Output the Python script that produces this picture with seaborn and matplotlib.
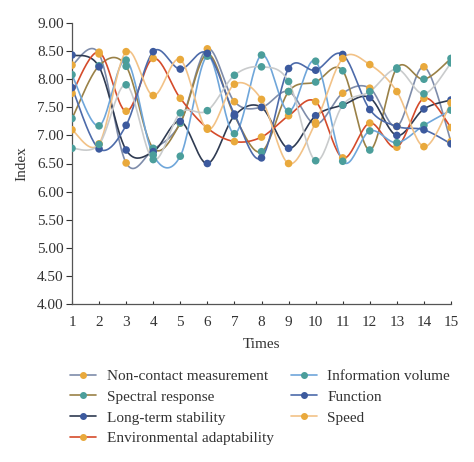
import numpy as np
import pandas as pd
import matplotlib
matplotlib.use("Agg")
import matplotlib.pyplot as plt
from matplotlib.lines import Line2D
import seaborn as sns

times = list(range(1, 16))

non_contact = [8.25, 8.45, 6.51, 6.75, 7.22, 8.54, 7.60, 7.50, 7.78, 7.20, 7.75, 7.84, 7.16, 8.22, 6.89]
spectral = [7.30, 8.24, 8.23, 6.77, 7.22, 8.45, 7.35, 6.71, 7.78, 7.95, 8.15, 6.74, 8.20, 8.00, 8.37]
long_term = [8.43, 8.22, 6.74, 6.71, 7.25, 6.50, 7.35, 7.50, 6.77, 7.35, 7.54, 7.67, 7.00, 7.47, 7.63]
environmental = [7.75, 8.48, 7.43, 8.37, 7.66, 7.13, 6.89, 6.97, 7.35, 7.60, 6.60, 7.22, 6.79, 7.66, 7.14]
information = [8.08, 7.17, 8.34, 6.65, 6.63, 8.41, 7.03, 8.43, 7.43, 8.32, 6.54, 7.08, 6.87, 7.18, 7.45]
function = [7.85, 6.76, 7.18, 8.49, 8.18, 8.46, 7.38, 6.60, 8.19, 8.16, 8.44, 7.46, 7.16, 7.10, 6.85]
speed = [7.10, 6.85, 8.49, 7.71, 8.35, 7.11, 7.91, 7.64, 6.50, 7.23, 8.37, 8.26, 7.78, 6.80, 7.58]
extra = [6.77, 6.84, 7.90, 6.57, 7.40, 7.44, 8.07, 8.22, 7.96, 6.55, 7.54, 7.78, 8.18, 7.74, 8.29]

names = ["Non-contact measurement", "Spectral response", "Long-term stability",
         "Environmental adaptability", "Information volume", "Function", "Speed", "_extra"]
series = [non_contact, spectral, long_term, environmental, information, function, speed, extra]

ORANGE = "#E9A93C"
TEAL = "#4B9E9B"
BLUE = "#3C5A9E"
line_colors = ["#7E8CAA", "#9A8147", "#2F3B52", "#D54B2B", "#6FA6DA", "#4D6BAA", "#F2C287", "#C9CBCC"]
marker_colors = [ORANGE, TEAL, BLUE, ORANGE, TEAL, BLUE, ORANGE, TEAL]


def smooth(xs, ys, n=24):
    # Catmull-Rom style cubic Bezier (Excel smoothed line rendering)
    xs = np.asarray(xs, float)
    ys = np.asarray(ys, float)
    px = np.concatenate([[xs[0]], xs, [xs[-1]]])
    py = np.concatenate([[ys[0]], ys, [ys[-1]]])
    outx, outy = [], []
    for i in range(1, len(px) - 2):
        p0 = np.array([px[i - 1], py[i - 1]])
        p1 = np.array([px[i], py[i]])
        p2 = np.array([px[i + 1], py[i + 1]])
        p3 = np.array([px[i + 2], py[i + 2]])
        c1 = p1 + (p2 - p0) / 6.0
        c2 = p2 - (p3 - p1) / 6.0
        t = np.linspace(0, 1, n, endpoint=(i == len(px) - 3))
        b = ((1 - t) ** 3)[:, None] * p1 + (3 * (1 - t) ** 2 * t)[:, None] * c1 \
            + (3 * (1 - t) * t ** 2)[:, None] * c2 + (t ** 3)[:, None] * p2
        outx.extend(b[:, 0]); outy.extend(b[:, 1])
    return np.array(outx), np.array(outy)


sns.set_theme(style="white")
plt.rcParams["font.family"] = ["Liberation Serif", "DejaVu Serif"]

fig = plt.figure(figsize=(4.74, 4.62), dpi=100)
ax = fig.add_axes([72 / 474, 1 - 304 / 462, (451 - 72) / 474, (304 - 23) / 462])

rows = []
for name, vals in zip(names, series):
    sx, sy = smooth(times, vals)
    rows.append(pd.DataFrame({"Times": sx, "Index": sy, "series": name}))
curves = pd.concat(rows, ignore_index=True)
points = pd.concat([pd.DataFrame({"Times": times, "Index": v, "series": n}) for n, v in zip(names, series)],
                   ignore_index=True)

sns.lineplot(data=curves, x="Times", y="Index", hue="series", hue_order=names,
             palette=line_colors, sort=False, estimator=None, units="series",
             linewidth=1.2, legend=False, ax=ax)
sns.scatterplot(data=points, x="Times", y="Index", hue="series", hue_order=names,
                palette=marker_colors, s=30, edgecolor="none", legend=False, ax=ax, zorder=5)

ax.set_xlim(1, 15)
ax.set_ylim(4, 9)
ax.set_xticks(times)
ax.set_yticks(np.arange(4, 9.01, 0.5))
ax.set_yticklabels([f"{v:.2f}" for v in np.arange(4, 9.01, 0.5)])
ax.tick_params(axis="both", labelsize=11, colors="#333333")
ax.tick_params(axis="y", length=4, width=0.8, direction="out", left=True, pad=2)
ax.tick_params(axis="x", length=2.5, width=0.8, direction="in", bottom=True, pad=9)
for s in ["top", "right"]:
    ax.spines[s].set_visible(False)
for s in ["left", "bottom"]:
    ax.spines[s].set_color("#555555")
    ax.spines[s].set_linewidth(0.9)
ax.set_xlabel("Times", fontsize=11, color="#333333", labelpad=6)
ax.set_ylabel("Index", fontsize=11, color="#333333", labelpad=6)

handles = [Line2D([0], [0], color=line_colors[i], marker="o", markersize=4,
                  markerfacecolor=marker_colors[i], markeredgecolor=marker_colors[i], lw=1.2)
           for i in range(7)]
fig.legend(handles, names[:7], loc="upper left", bbox_to_anchor=(0.132, 0.217), ncol=2,
           frameon=False, fontsize=11, handlelength=1.7, handletextpad=0.7,
           columnspacing=1.1, labelspacing=0.46, borderpad=0, labelcolor="#333333")

fig.savefig("out.png", dpi=100)
